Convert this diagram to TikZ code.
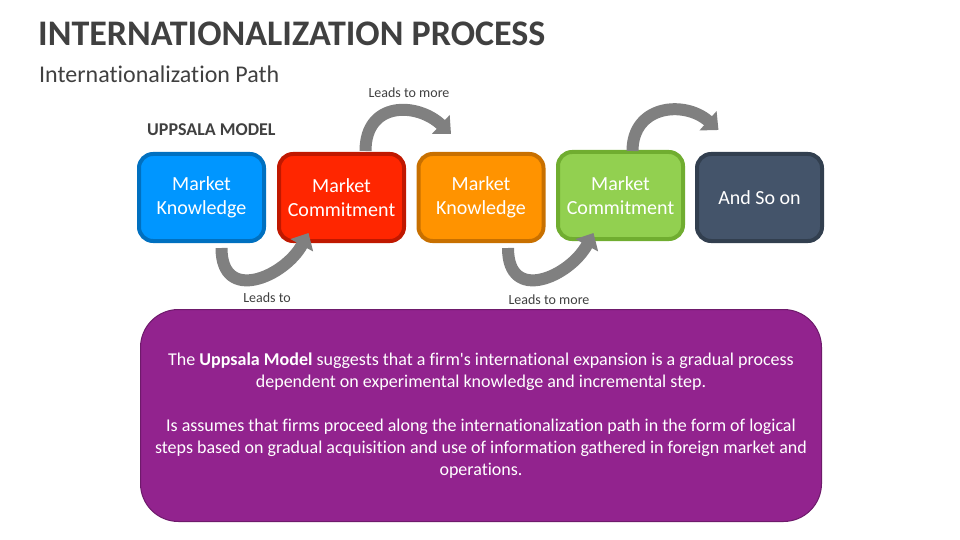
\documentclass[tikz,border=0pt]{standalone}
\usepackage{fontspec}
\setmainfont{Carlito}[Ligatures={CommonOff,TeXOff}]
\usetikzlibrary{arrows.meta,calc}
\definecolor{txtgray}{HTML}{404040}
\definecolor{arrgray}{HTML}{808080}
\definecolor{bluef}{HTML}{0096FF}
\definecolor{blued}{HTML}{0070C0}
\definecolor{redf}{HTML}{FF2600}
\definecolor{redd}{HTML}{C01800}
\definecolor{orf}{HTML}{FF9300}
\definecolor{ord}{HTML}{C87000}
\definecolor{grf}{HTML}{92D050}
\definecolor{grd}{HTML}{70AD30}
\definecolor{dkf}{HTML}{44546A}
\definecolor{dkd}{HTML}{323F4F}
\definecolor{purf}{HTML}{92238E}
\definecolor{purd}{HTML}{6E1A6B}
\tikzset{
  stepbox/.style={draw, line width=4pt, rounded corners=14pt, minimum width=125pt, minimum height=87pt,
    inner sep=0pt, align=center, text=white, font=\fontsize{20}{24}\selectfont},
  curvarrow/.style={draw=arrgray, line width=12pt, -{Triangle[width=25pt,length=14pt]}},
  lbl/.style={text=txtgray, font=\fontsize{14}{16}\selectfont, inner sep=0pt}
}
\begin{document}
\begin{tikzpicture}[x=1pt,y=-1pt]
\useasboundingbox (0,0) rectangle (960,540);
\node[anchor=west, text=txtgray, font=\bfseries\fontsize{36}{40}\selectfont, inner sep=0pt] (title) at (38,34) {INTERNATIONALIZATION PROCESS};
\node[anchor=west, text=txtgray, font=\fontsize{24}{28}\selectfont, inner sep=0pt] (sub) at (39,74) {Internationalization Path};
\node[anchor=west, text=txtgray, font=\bfseries\fontsize{18}{20}\selectfont, inner sep=0pt] (upp) at (147,129.5) {UPPSALA MODEL};

\node[stepbox, fill=bluef, draw=blued] (b1) at (201.5,197.5) {Market\\Knowledge};
\node[stepbox, fill=redf, draw=redd] (b2) at (341.5,197.5) {Market\\Commitment};
\node[stepbox, fill=orf, draw=ord] (b3) at (481,197.5) {Market\\Knowledge};
\node[stepbox, fill=grf, draw=grd] (b4) at (620.5,195.5) {Market\\Commitment};
\node[stepbox, fill=dkf, draw=dkd] (b5) at (759.5,197.5) {And So on};

\coordinate (s1) at ($(b1.south)+(20,5)$);
\coordinate (e1) at ($(b2.south)+(-33,-10)$);
\draw[curvarrow] (s1) .. controls ($(s1)+(0,56)$) and ($(e1)+(-24,44)$) .. (e1);
\node[lbl] (l1) at (267,298) {Leads to};

\coordinate (s2) at ($(b2.north)+(24,-1)$);
\coordinate (e2) at ($(b3.north)+(-30,-18)$);
\draw[curvarrow] (s2) .. controls ($(s2)+(0,-50)$) and ($(e2)+(-34,-32)$) .. (e2);
\node[lbl] (l2) at (409,93) {Leads to more};

\coordinate (s3) at ($(b3.south)+(27,5)$);
\coordinate (e3) at ($(b4.south)+(-27,-8)$);
\draw[curvarrow] (s3) .. controls ($(s3)+(0,56)$) and ($(e3)+(-24,44)$) .. (e3);
\node[lbl] (l3) at (549,300) {Leads to more};

\coordinate (s4) at ($(b4.north)+(12,1)$);
\coordinate (e4) at ($(b5.north)+(-41,-22)$);
\draw[curvarrow] (s4) .. controls ($(s4)+(0,-46)$) and ($(e4)+(-34,-30)$) .. (e4);

\node[draw=purd, line width=1pt, fill=purf, rounded corners=38pt, minimum width=681pt, minimum height=212pt,
  text=white, align=center, font=\fontsize{18}{22}\selectfont] (desc) at (481,415.5)
  {The \textbf{Uppsala Model} suggests that a firm's international expansion is a gradual process\\
   dependent on experimental knowledge and incremental step.\\[22pt]
   Is assumes that firms proceed along the internationalization path in the form of logical\\
   steps based on gradual acquisition and use of information gathered in foreign market and\\
   operations.};
\end{tikzpicture}
\end{document}
